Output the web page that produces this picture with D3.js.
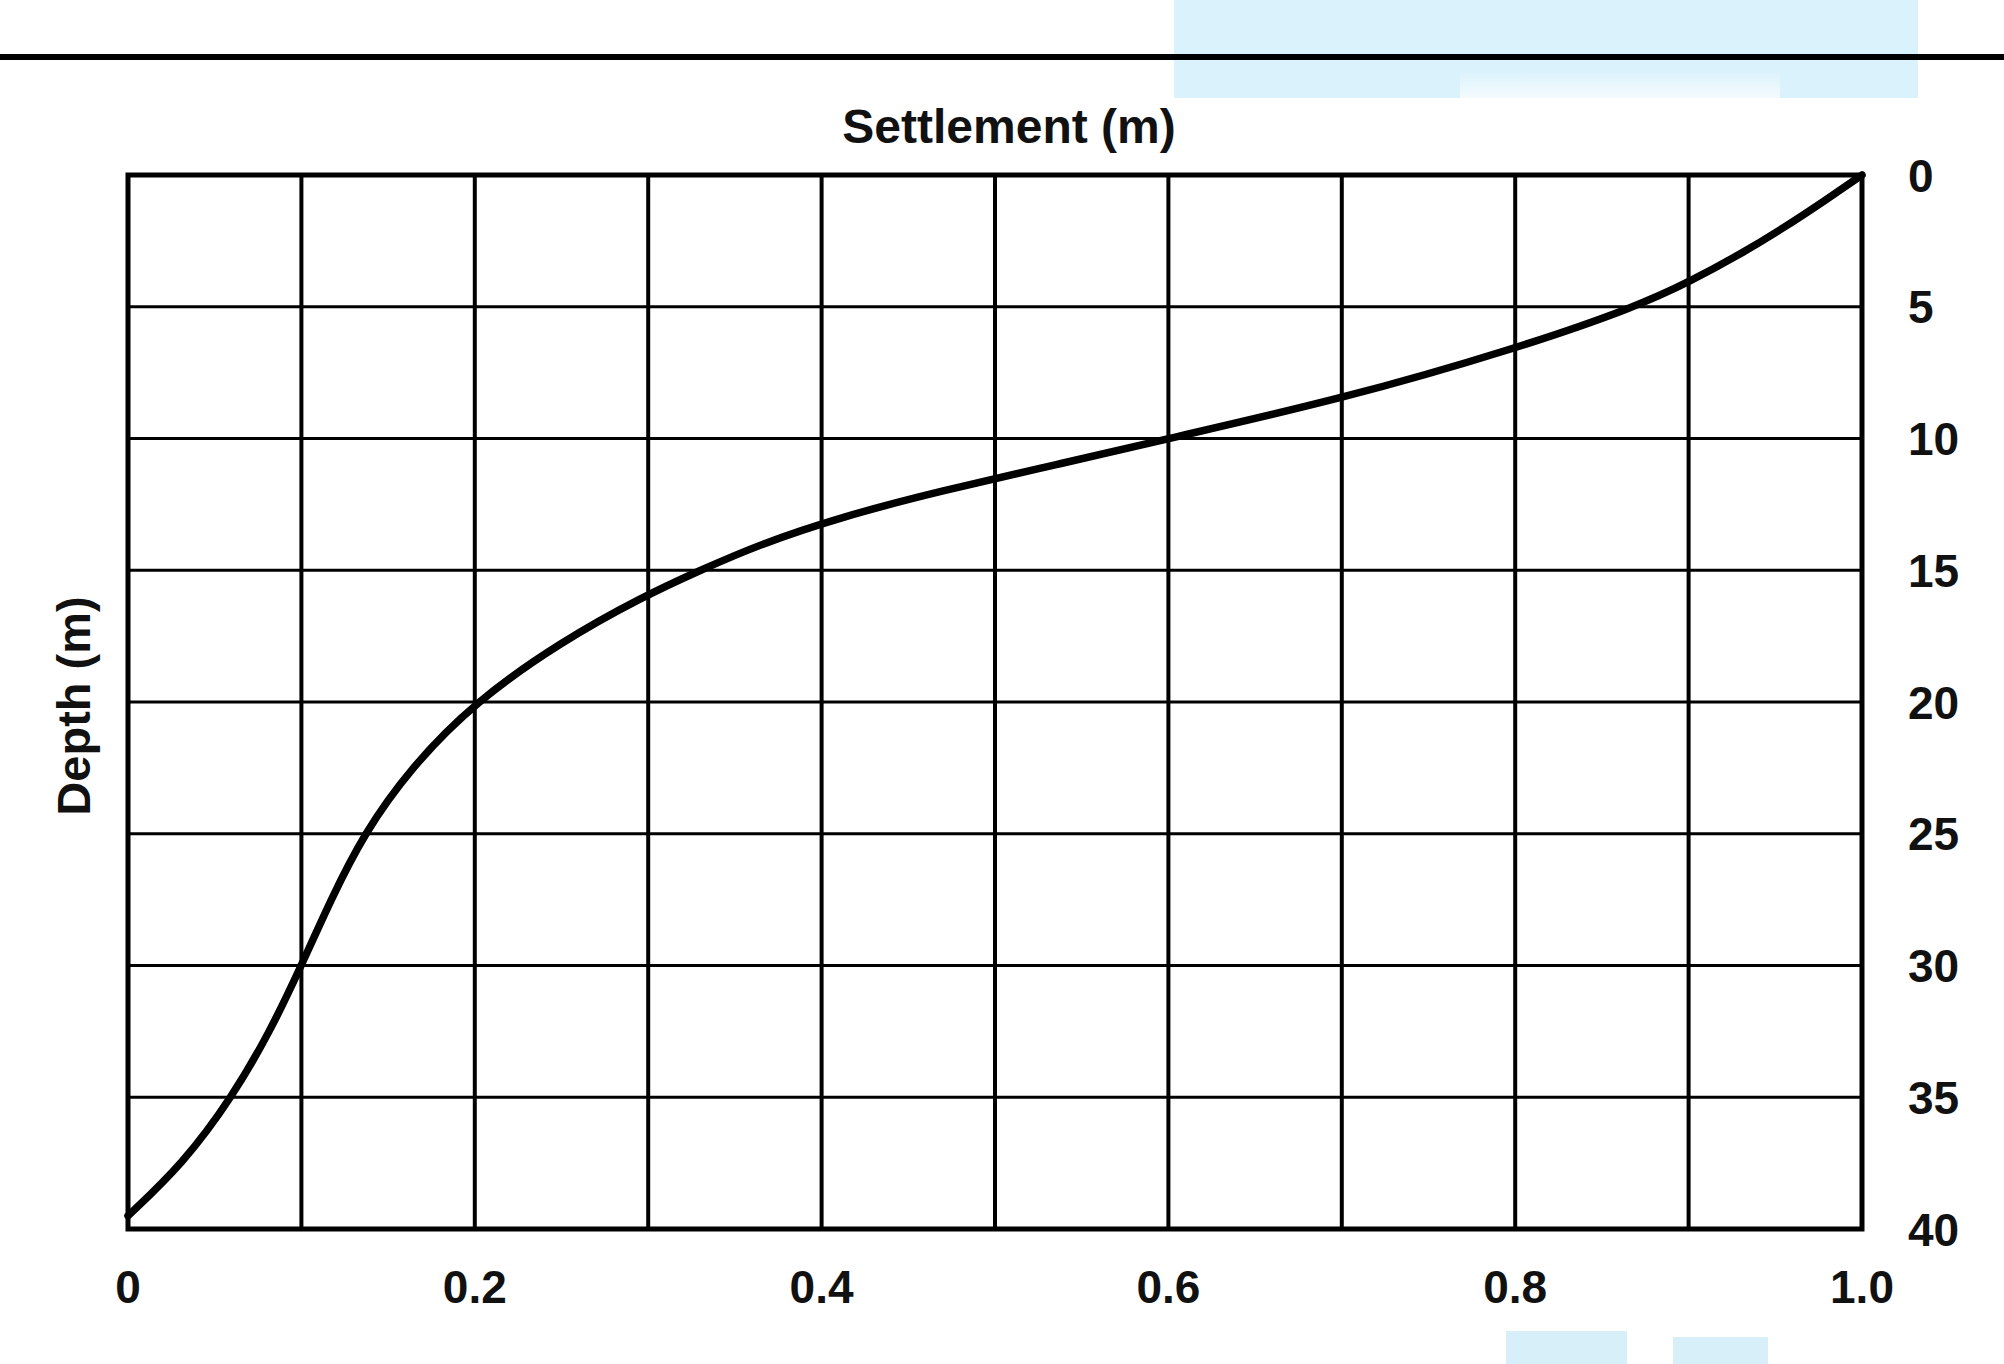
<!DOCTYPE html>
<html>
<head>
<meta charset="utf-8">
<script src="https://cdn.jsdelivr.net/npm/d3@7"></script>
<style>
  html, body { margin: 0; padding: 0; background: #fff; }
  svg { display: block; }
  text { font-family: "Liberation Sans", Arial, Helvetica, sans-serif; font-weight: bold; fill: #111; }
</style>
</head>
<body>
<svg id="chart" width="2004" height="1364"></svg>
<script>
// ---- data ----
const xTitle = "Settlement (m)";
const yTitle = "Depth (m)";
const xGridValues = [0, 0.1, 0.2, 0.3, 0.4, 0.5, 0.6, 0.7, 0.8, 0.9, 1.0];
const xTickValues = [0, 0.2, 0.4, 0.6, 0.8, 1.0];
const xTickLabels = ["0", "0.2", "0.4", "0.6", "0.8", "1.0"];
const yTickValues = [0, 5, 10, 15, 20, 25, 30, 35, 40];
const yTickLabels = ["0", "5", "10", "15", "20", "25", "30", "35", "40"];
// curve: settlement (m) vs depth (m)
const depth      = [0.0, 1.0, 2.0, 3.0, 4.0, 5.0, 6.6, 8.5, 10.0, 11.0, 12.0, 13.0, 14.0, 15.0, 16.0, 17.7, 20.0, 22.5, 25.0, 27.5, 30.0, 32.5, 35.0, 37.5, 39.5];
const settlement = [1.0, 0.978, 0.955, 0.93, 0.902, 0.870, 0.8, 0.7, 0.6, 0.535, 0.468, 0.41, 0.365, 0.33, 0.297, 0.25, 0.2, 0.163, 0.136, 0.117, 0.1, 0.082, 0.06, 0.032, 0.0];

// ---- drawing ----
const svg = d3.select("#chart");
const W = 2004, H = 1364;

const defs = svg.append("defs");
const grad = defs.append("linearGradient").attr("id", "fade").attr("x1", 0).attr("y1", 0).attr("x2", 0).attr("y2", 1);
grad.append("stop").attr("offset", "0%").attr("stop-color", "#daf2fc");
grad.append("stop").attr("offset", "100%").attr("stop-color", "#f4fbfe");

// scan artefacts: light blue patches and top rule
svg.append("rect").attr("x", 1174).attr("y", 0).attr("width", 744).attr("height", 98).attr("fill", "#daf2fc");
svg.append("rect").attr("x", 1460).attr("y", 70).attr("width", 320).attr("height", 28).attr("fill", "url(#fade)");
svg.append("rect").attr("x", 1506).attr("y", 1331).attr("width", 121).attr("height", 33).attr("fill", "#d6eff9");
svg.append("rect").attr("x", 1673).attr("y", 1337).attr("width", 95).attr("height", 27).attr("fill", "#d6eff9");
svg.append("rect").attr("x", 0).attr("y", 54).attr("width", W).attr("height", 6).attr("fill", "#000");

const x = d3.scaleLinear().domain([0, 1]).range([128, 1862]);
const y = d3.scaleLinear().domain([0, 40]).range([175, 1229]);

const g = svg.append("g");

// horizontal grid lines
g.selectAll("line.h").data(yTickValues).join("line")
  .attr("class", "h")
  .attr("x1", x(0)).attr("x2", x(1))
  .attr("y1", d => y(d)).attr("y2", d => y(d))
  .attr("stroke", "#000").attr("stroke-width", 3.2);

// vertical grid lines
g.selectAll("line.v").data(xGridValues).join("line")
  .attr("class", "v")
  .attr("x1", d => x(d)).attr("x2", d => x(d))
  .attr("y1", y(0)).attr("y2", y(40))
  .attr("stroke", "#000").attr("stroke-width", 4);

// frame
g.append("rect")
  .attr("x", x(0)).attr("y", y(0))
  .attr("width", x(1) - x(0)).attr("height", y(40) - y(0))
  .attr("fill", "none").attr("stroke", "#000").attr("stroke-width", 5);

// curve
const pts = settlement.map((s, i) => [s, depth[i]]);
const line = d3.line().x(d => x(d[0])).y(d => y(d[1])).curve(d3.curveBasis);
g.append("path").datum(pts)
  .attr("d", line)
  .attr("fill", "none").attr("stroke", "#000").attr("stroke-width", 7.5)
  .attr("stroke-linecap", "round").attr("stroke-linejoin", "round");

// x tick labels (bottom)
g.selectAll("text.xt").data(xTickValues).join("text")
  .attr("class", "xt")
  .attr("x", d => x(d)).attr("y", 1303)
  .attr("text-anchor", "middle")
  .attr("font-size", 46)
  .text((d, i) => xTickLabels[i]);

// y tick labels (right)
g.selectAll("text.yt").data(yTickValues).join("text")
  .attr("class", "yt")
  .attr("x", 1908).attr("y", d => y(d))
  .attr("dy", "0.36em")
  .attr("text-anchor", "start")
  .attr("font-size", 46)
  .text((d, i) => yTickLabels[i]);

// titles
svg.append("text")
  .attr("x", 1009).attr("y", 143)
  .attr("text-anchor", "middle")
  .attr("font-size", 48)
  .text(xTitle);

svg.append("text")
  .attr("transform", "translate(90,706) rotate(-90)")
  .attr("text-anchor", "middle")
  .attr("font-size", 47)
  .text(yTitle);
</script>
</body>
</html>
